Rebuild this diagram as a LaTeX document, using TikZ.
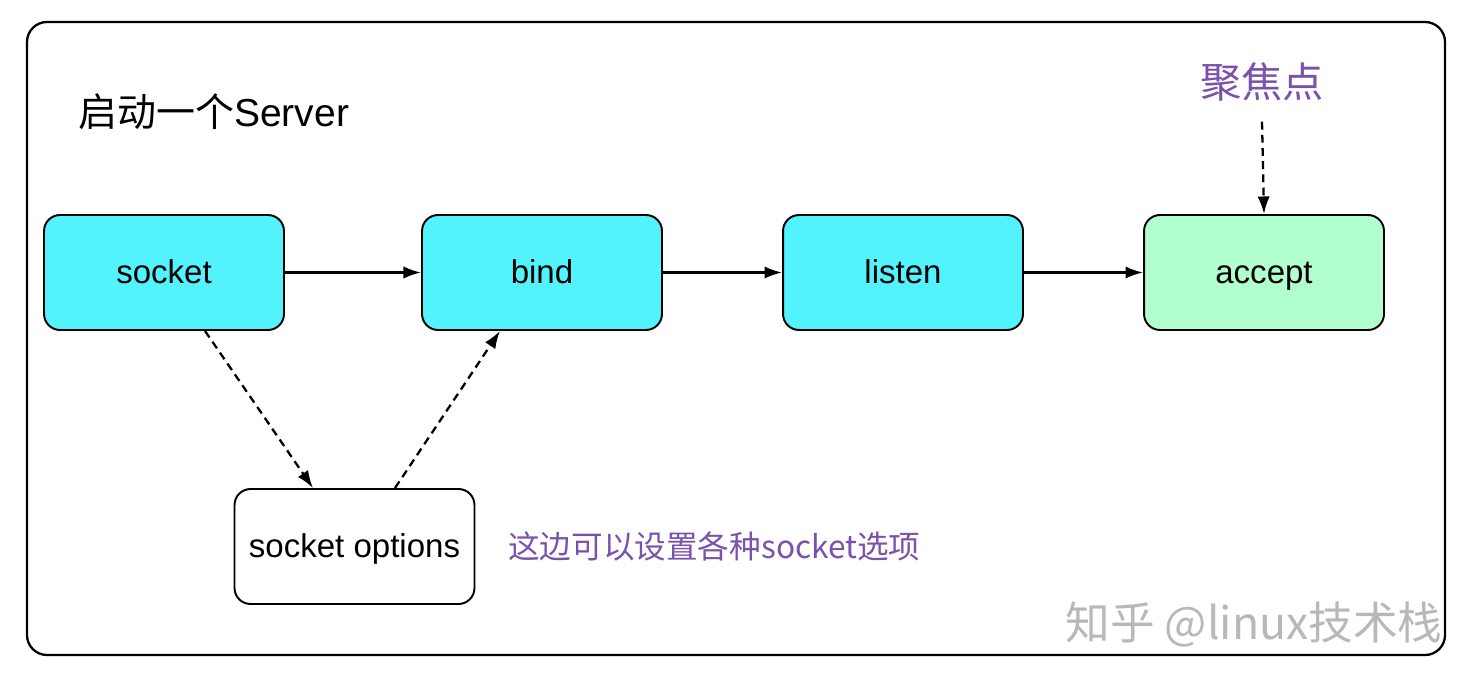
\documentclass[tikz,border=0pt]{standalone}
\usepackage{fontspec}
\setmainfont{Liberation Sans}
\newfontfamily\cjk{Noto Sans CJK SC}
\usepackage{xcolor}
\usetikzlibrary{arrows.meta}

\definecolor{callcyan}{RGB}{82,243,253}
\definecolor{focusgreen}{RGB}{178,255,206}
\definecolor{notepurple}{RGB}{123,82,171}

\begin{document}
\begin{tikzpicture}[x=0.02cm, y=-0.02cm,
    box/.style={rectangle, rounded corners=0.32cm, draw, line width=1.1pt, minimum width=4.8cm, minimum height=2.3cm, align=center, text height=13pt, text depth=0pt, font=\fontsize{18.8}{22}\selectfont},
    arrow/.style={-{Latex[length=10pt,width=7pt]}, line width=1.3pt},
    dasharrow/.style={arrow, dash pattern=on 4.5pt off 3pt}
]
    \useasboundingbox (0,0) rectangle (1479,685);
    \draw[line width=1.3pt, rounded corners=0.4cm] (27,22) rectangle (1445,655);

    \node[anchor=west, font=\fontsize{22.2}{26}\selectfont] (title) at (72,112) {{\cjk 启动一个}Server};

    \node[box, fill=callcyan] (socket) at (164,272.5) {socket};
    \node[box, fill=callcyan] (bind) at (542,272.5) {bind};
    \node[box, fill=callcyan] (listen) at (903,272.5) {listen};
    \node[box, fill=focusgreen] (accept) at (1264,272.5) {accept};
    \node[box, fill=white] (opts) at (354.5,546.5) {socket options};

    \node[text=notepurple, font=\cjk\fontsize{23.5}{28}\selectfont, inner sep=0pt] (focus) at (1262,82) {聚焦点};
    \node[anchor=west, text=notepurple, font=\cjk\fontsize{18}{22}\selectfont] (note) at (502,546) {这边可以设置各种socket选项};
    \node[text=black!28, font=\cjk\fontsize{25.4}{30}\selectfont] (mark) at (1254,625) {知乎 @linux技术栈};

    \draw[arrow] (socket) -- (bind);
    \draw[arrow] (bind) -- (listen);
    \draw[arrow] (listen) -- (accept);
    \draw[dasharrow] ([xshift=0.82cm]socket.south) -- ([xshift=-0.83cm]opts.north);
    \draw[dasharrow] ([xshift=0.81cm]opts.north) -- ([xshift=-0.84cm]bind.south);
    \draw[dasharrow] ([yshift=-0.4cm]focus.south) -- (accept.north);
\end{tikzpicture}
\end{document}
